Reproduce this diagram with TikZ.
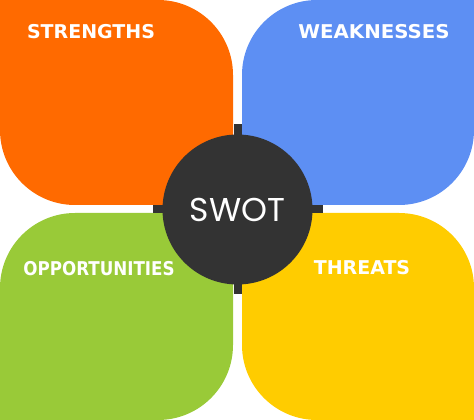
\documentclass[tikz,border=0pt]{standalone}
\usepackage{fontspec}
\newfontfamily\labelfont{DejaVu Sans}
\newfontfamily\swotfont{Poppins}
\definecolor{sorange}{HTML}{FF6A00}
\definecolor{sblue}{HTML}{5D8FF3}
\definecolor{sgreen}{HTML}{99CA38}
\definecolor{syellow}{HTML}{FFCC00}
\definecolor{sdark}{HTML}{333333}
\begin{document}
\begin{tikzpicture}[x=1pt,y=1pt,
    quad/.style={text=white, font=\labelfont\bfseries\fontsize{19}{19}\selectfont, inner sep=0pt},
    hub/.style={circle, fill=sdark, minimum size=150pt, inner sep=0pt, text=white, font=\swotfont\fontsize{33}{33}\selectfont}]
  \useasboundingbox (0,0) rectangle (474,420);
  \fill[sorange] (233,215) -- (75,215) arc[start angle=270,end angle=180,radius=75] -- (0,420) -- (158,420) arc[start angle=90,end angle=0,radius=75] -- cycle;
  \fill[sblue] (242,215) -- (399,215) arc[start angle=270,end angle=360,radius=75] -- (474,420) -- (317,420) arc[start angle=90,end angle=180,radius=75] -- cycle;
  \fill[sgreen] (233,207) -- (75,207) arc[start angle=90,end angle=180,radius=75] -- (0,0) -- (158,0) arc[start angle=270,end angle=360,radius=75] -- cycle;
  \fill[syellow] (242,207) -- (399,207) arc[start angle=90,end angle=0,radius=75] -- (474,0) -- (317,0) arc[start angle=270,end angle=180,radius=75] -- cycle;
  \fill[sdark] (152.5,206.5) rectangle (322.5,214.5);
  \fill[sdark] (233.5,125.5) rectangle (241.5,295.5);
  \node[hub] (swot) at (237.5,210.5) {SWOT};
  \node[quad] (strengths) at (91,388) {STRENGTHS};
  \node[quad, xscale=1.04] (weaknesses) at (374,388) {WEAKNESSES};
  \node[quad, xscale=0.88] (opportunities) at (99,151) {OPPORTUNITIES};
  \node[quad] (threats) at (362,152.5) {THREATS};
\end{tikzpicture}
\end{document}
